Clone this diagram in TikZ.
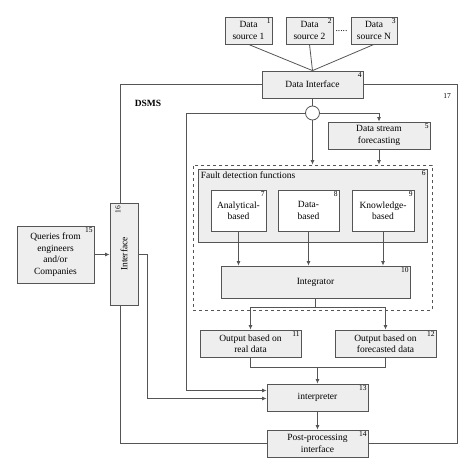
\documentclass[tikz,border=0pt]{standalone}
\usepackage{fontspec}
\setmainfont{Liberation Serif}
\usetikzlibrary{arrows.meta,calc}
\definecolor{linec}{HTML}{555555}
\definecolor{boxfill}{HTML}{EEEEEE}
\newcommand{\fs}{\fontsize{9.5}{11.5}\selectfont}
\newcommand{\fn}{\fontsize{7.5}{8}\selectfont}
\tikzset{
  box/.style={draw=linec, fill=boxfill, align=center, font=\fs, inner sep=1pt, line width=0.8pt},
  wbox/.style={box, fill=white},
  num/.style={font=\fn, inner sep=1.5pt, anchor=north east},
  ln/.style={draw=linec, line width=0.8pt},
  arr/.style={ln, -{Latex[length=4.5pt,width=4pt]}},
  nb/.style={label={[num]north east:#1}}
}
\begin{document}
\begin{tikzpicture}[x=1pt, y=-1pt]
  \useasboundingbox (0,0) rectangle (474,474);
  % data sources
  \node[box, minimum width=47, minimum height=27, nb=1] (ds1) at (248.5,30.5) {Data\\source 1};
  \node[box, minimum width=47, minimum height=27, nb=2] (ds2) at (309.5,30.5) {Data\\source 2};
  \node[box, minimum width=46, minimum height=27, nb=3] (dsN) at (374,30.5) {Data\\source N};
  \node[font=\fs, inner sep=0] (dots) at (341.5,31) {.....};
  \node[box, minimum width=101, minimum height=27, nb=4] (di) at (312.5,84.5) {Data Interface};
  \node[font=\fs\bfseries] (dsms) at (148,103) {DSMS};
  \node[font=\fn] (n17) at (447,96) {17};
  \node[circle, ln, fill=white, minimum size=14, inner sep=0] (sp) at (312.5,113) {};
  \node[box, minimum width=102, minimum height=27, nb=5] (dsf) at (379,135.5) {Data stream\\forecasting};
  % fault detection
  \node[ln, dashed, minimum width=239, minimum height=145, inner sep=0] (fdbox) at (312.5,237.5) {};
  \node[box, minimum width=229, minimum height=73, nb=6,
        label={[font=\fs, anchor=north west, inner sep=3pt]north west:Fault detection functions}] (fdf) at (312.5,205.5) {};
  \node[wbox, minimum width=55, minimum height=41, nb=7] (ab) at (238.5,210.5) {Analytical-\\based};
  \node[wbox, minimum width=61, minimum height=41, nb=8] (db) at (308.5,210.5) {Data-\\based};
  \node[wbox, minimum width=62, minimum height=41, nb=9] (kb) at (383,210.5) {Knowledge-\\based};
  \node[box, minimum width=189, minimum height=32, nb=10] (integ) at (315.5,282) {Integrator};
  \node[box, minimum width=101, minimum height=27, nb=11] (o11) at (250.5,343.5) {Output based on\\real data};
  \node[box, minimum width=101, minimum height=27, nb=12] (o12) at (385.5,343.5) {Output based on\\forecasted data};
  \node[box, minimum width=101, minimum height=27, nb=13] (interp) at (317.5,397.5) {interpreter};
  \node[box, minimum width=101, minimum height=27, nb=14] (post) at (317.5,443.5) {Post-processing\\interface};
  % user side
  \node[box, minimum width=77, minimum height=57, nb=15] (q) at (55.5,254.5) {Queries from\\engineers\\and/or\\Companies};
  \node[box, minimum width=28, minimum height=102,
        label={[font=\fn, anchor=north, inner sep=3pt, xshift=-6pt]north:\rotatebox{90}{16}}] (iface) at (124,254) {\rotatebox{90}{Interface}};
  \coordinate (ne) at (457,84.5);
  \coordinate (se) at (457,443.5);

  \foreach \s in {ds1,ds2,dsN}
    \draw[ln] (\s.south) -- (di.north);
  \draw[ln] (di.south) -- (sp.north);
  \draw[arr] (sp.east) -| (dsf.north);
  \draw[arr] (sp.south) -- (fdbox.north);
  \draw[arr] (dsf.south) -- (dsf.south |- fdbox.north);
  \draw[arr] (sp.west) -| ([xshift=-80pt,yshift=7pt]interp.west) -- ([yshift=7pt]interp.west);
  \foreach \f in {ab,db,kb}
    \draw[arr] (\f.south) -- (\f.south |- integ.north);
  \draw[arr] (integ.south) -- ++(0,9) -| (o11.north);
  \draw[arr] (integ.south) ++(0,9) -| (o12.north);
  \draw[ln] (o11.south) -- ++(0,10) -| (o12.south);
  \draw[arr] (o11.south) ++(0,10) -| (interp.north);
  \draw[arr] (interp.south) -- (post.north);
  \draw[arr] (q.east) -- (q.east -| iface.west);
  \draw[arr] (iface.east) -| ([xshift=-119pt,yshift=-1pt]interp.west) -- ([yshift=-1pt]interp.west);
  % outer loop
  \draw[ln] (di.west) -| ([xshift=-4pt]iface.north);
  \draw[ln] ([xshift=-4pt]iface.south) |- (post.west);
  \draw[ln] (di.east) -- (ne) -- (se) -- (post.east);
\end{tikzpicture}
\end{document}
